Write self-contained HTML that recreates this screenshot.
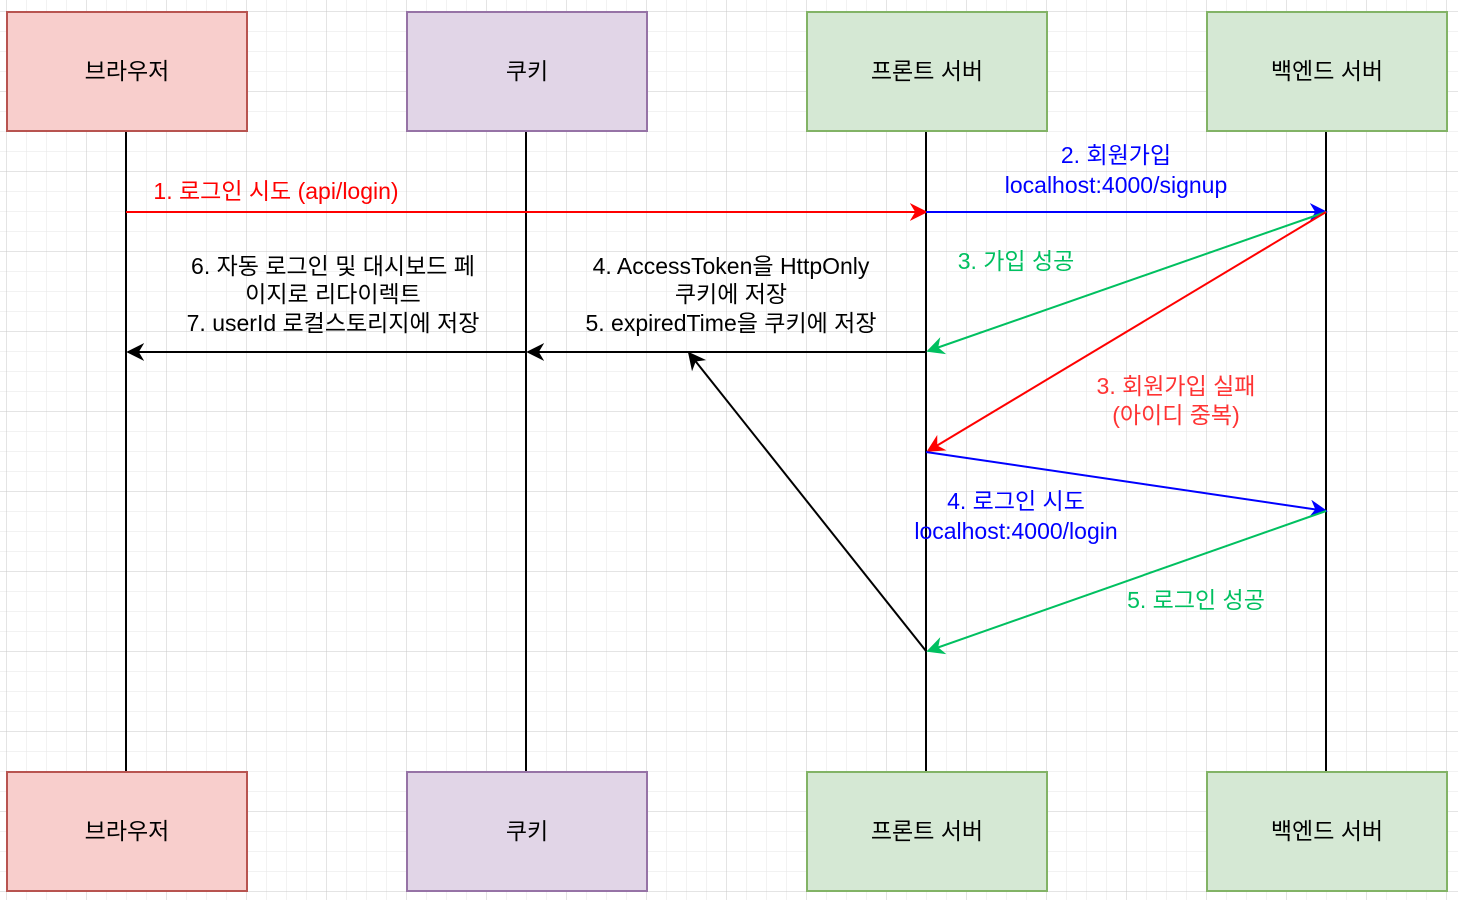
<!DOCTYPE html>
<html><head><meta charset="utf-8"><style>
body{margin:0;background:#fff}
svg text{font-family:"Liberation Sans","Noto Sans CJK KR",sans-serif;font-size:23px;text-anchor:middle}
</style></head><body>
<svg width="1458" height="900" xmlns="http://www.w3.org/2000/svg">
<defs>
<pattern id="mi" width="20" height="20" patternUnits="userSpaceOnUse" x="6" y="11"><path d="M0 0H20M0 0V20" stroke="#e6e6e6" stroke-width="1" fill="none"/></pattern>
<pattern id="ma" width="80" height="80" patternUnits="userSpaceOnUse" x="6" y="11"><path d="M0 0H80M0 0V80" stroke="#c8c8c8" stroke-width="1" fill="none"/></pattern>
<marker id="ar" viewBox="0 0 10 10" refX="9" refY="5" markerWidth="18" markerHeight="18" markerUnits="userSpaceOnUse" orient="auto"><path d="M0 0L10 5L0 10L3 5Z" fill="#f00"/></marker>
<marker id="ab" viewBox="0 0 10 10" refX="9" refY="5" markerWidth="18" markerHeight="18" markerUnits="userSpaceOnUse" orient="auto"><path d="M0 0L10 5L0 10L3 5Z" fill="#00f"/></marker>
<marker id="ag" viewBox="0 0 10 10" refX="9" refY="5" markerWidth="18" markerHeight="18" markerUnits="userSpaceOnUse" orient="auto"><path d="M0 0L10 5L0 10L3 5Z" fill="#00c060"/></marker>
<marker id="ak" viewBox="0 0 10 10" refX="9" refY="5" markerWidth="18" markerHeight="18" markerUnits="userSpaceOnUse" orient="auto"><path d="M0 0L10 5L0 10L3 5Z" fill="#000"/></marker>
</defs>
<rect width="1458" height="900" fill="url(#mi)"/>
<rect width="1458" height="900" fill="url(#ma)"/>
<g stroke="#000" stroke-width="2">
<line x1="126" y1="131" x2="126" y2="772"/><line x1="526" y1="131" x2="526" y2="772"/>
<line x1="926" y1="131" x2="926" y2="772"/><line x1="1326" y1="131" x2="1326" y2="772"/>
</g>
<g stroke-width="2">
<rect x="7" y="12" width="240" height="119" fill="#f8cecc" stroke="#b85450"/>
<rect x="407" y="12" width="240" height="119" fill="#e1d5e7" stroke="#9673a6"/>
<rect x="807" y="12" width="240" height="119" fill="#d5e8d4" stroke="#82b366"/>
<rect x="1207" y="12" width="240" height="119" fill="#d5e8d4" stroke="#82b366"/>
<rect x="7" y="772" width="240" height="119" fill="#f8cecc" stroke="#b85450"/>
<rect x="407" y="772" width="240" height="119" fill="#e1d5e7" stroke="#9673a6"/>
<rect x="807" y="772" width="240" height="119" fill="#d5e8d4" stroke="#82b366"/>
<rect x="1207" y="772" width="240" height="119" fill="#d5e8d4" stroke="#82b366"/>
</g>
<g fill="#000">
<text x="127" y="79">브라우저</text><text x="527" y="79">쿠키</text><text x="927" y="79">프론트 서버</text><text x="1327" y="79">백엔드 서버</text>
<text x="127" y="839">브라우저</text><text x="527" y="839">쿠키</text><text x="927" y="839">프론트 서버</text><text x="1327" y="839">백엔드 서버</text>
</g>
<g stroke-width="2" fill="none">
<line x1="126" y1="212" x2="926" y2="212" stroke="#f00" marker-end="url(#ar)"/>
<line x1="926" y1="212" x2="1326" y2="212" stroke="#00f" marker-end="url(#ab)"/>
<line x1="1326" y1="212" x2="928" y2="351" stroke="#00c060" marker-end="url(#ag)"/>
<line x1="1326" y1="212" x2="928" y2="451" stroke="#f00" marker-end="url(#ar)"/>
<line x1="926" y1="352" x2="528" y2="352" stroke="#000" marker-end="url(#ak)"/>
<line x1="526" y1="352" x2="128" y2="352" stroke="#000" marker-end="url(#ak)"/>
<line x1="926" y1="452" x2="1326" y2="511" stroke="#00f" marker-end="url(#ab)"/>
<line x1="1326" y1="511" x2="928" y2="651" stroke="#00c060" marker-end="url(#ag)"/>
<line x1="926" y1="651" x2="689" y2="353" stroke="#000" marker-end="url(#ak)"/>
</g>
<text x="276" y="199" fill="#f00">1. 로그인 시도 (api/login)</text>
<text x="1116" y="163" fill="#00f">2. 회원가입</text>
<text x="1116" y="193" fill="#00f">localhost:4000/signup</text>
<text x="1016" y="269" fill="#00c060">3. 가입 성공</text>
<text x="1176" y="394" fill="#f33">3. 회원가입 실패</text>
<text x="1176" y="423" fill="#f33">(아이디 중복)</text>
<text x="1016" y="509" fill="#00f">4. 로그인 시도</text>
<text x="1016" y="539" fill="#00f">localhost:4000/login</text>
<text x="1196" y="608" fill="#00c060">5. 로그인 성공</text>
<text x="333" y="274">6. 자동 로그인 및 대시보드 페</text>
<text x="333" y="302">이지로 리다이렉트</text>
<text x="333" y="331">7. userId 로컬스토리지에 저장</text>
<text x="731" y="274">4. AccessToken을 HttpOnly</text>
<text x="731" y="302">쿠키에 저장</text>
<text x="731" y="331">5. expiredTime을 쿠키에 저장</text>
</svg>
</body></html>
